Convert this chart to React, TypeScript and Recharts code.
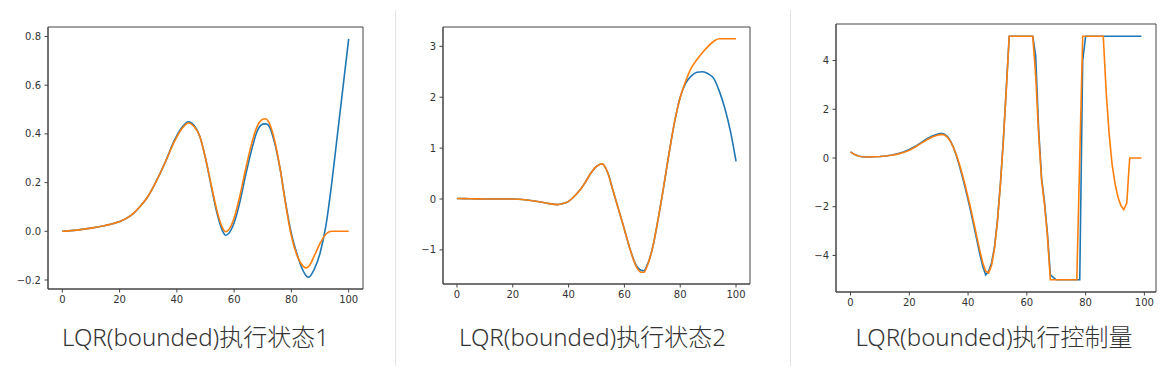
import React from 'react';
import { LineChart, Line, XAxis, YAxis, ReferenceArea } from 'recharts';

// 状态1
const state1X = [0, 5, 10, 15, 20, 24, 27, 30, 33, 36, 39, 42, 44, 46, 48, 50, 52, 54, 56, 57, 58, 60, 62, 64, 66, 68, 70, 71, 72, 74, 76, 78, 80, 82, 84, 85, 86, 88, 90, 92, 94, 96, 98, 100];
const state1Free = [0, 0.005, 0.013, 0.024, 0.04, 0.065, 0.1, 0.145, 0.21, 0.285, 0.37, 0.43, 0.45, 0.435, 0.39, 0.3, 0.185, 0.075, 0, -0.016, -0.01, 0.035, 0.12, 0.23, 0.33, 0.41, 0.44, 0.441, 0.435, 0.37, 0.26, 0.115, -0.01, -0.095, -0.16, -0.18, -0.188, -0.155, -0.09, 0.02, 0.19, 0.39, 0.59, 0.79];
const state1Bounded = [0, 0.005, 0.013, 0.024, 0.04, 0.065, 0.1, 0.145, 0.21, 0.285, 0.365, 0.425, 0.445, 0.43, 0.39, 0.3, 0.19, 0.085, 0.012, -0.002, 0.005, 0.055, 0.145, 0.255, 0.355, 0.43, 0.46, 0.462, 0.45, 0.38, 0.26, 0.11, -0.02, -0.1, -0.142, -0.15, -0.145, -0.1, -0.05, -0.012, 0, 0, 0, 0];

// 状态2
const state2X = [0, 5, 10, 15, 20, 25, 30, 33, 36, 38, 40, 42, 44, 46, 48, 50, 52, 54, 56, 58, 60, 62, 64, 66, 67, 68, 70, 72, 74, 76, 78, 80, 82, 84, 86, 88, 90, 92, 94, 96, 98, 100];
const state2Free = [0.01, 0.005, 0, 0, 0, -0.02, -0.06, -0.09, -0.11, -0.09, -0.045, 0.05, 0.17, 0.33, 0.51, 0.64, 0.69, 0.52, 0.15, -0.22, -0.6, -0.98, -1.28, -1.4, -1.41, -1.32, -0.98, -0.42, 0.22, 0.9, 1.52, 2.0, 2.28, 2.42, 2.49, 2.5, 2.46, 2.37, 2.12, 1.78, 1.33, 0.74];
const state2Bounded = [0.01, 0.005, 0, 0, 0, -0.02, -0.06, -0.09, -0.11, -0.09, -0.045, 0.05, 0.17, 0.33, 0.51, 0.64, 0.69, 0.52, 0.15, -0.22, -0.6, -0.98, -1.3, -1.44, -1.44, -1.34, -0.98, -0.42, 0.22, 0.9, 1.52, 2.0, 2.32, 2.58, 2.74, 2.88, 3.0, 3.1, 3.15, 3.15, 3.15, 3.15];

// 控制量
const controlX = [0, 1, 2, 3, 4, 6, 8, 10, 12, 14, 16, 18, 20, 22, 24, 26, 28, 30, 31, 32, 33, 34, 35, 36, 37, 38, 39, 40, 41, 42, 43, 44, 45, 46, 47, 48, 49, 50, 51, 52, 53, 54, 62, 63, 64, 65, 66, 67, 68, 69, 70, 77, 78, 79, 80, 86, 87, 88, 89, 90, 91, 92, 93, 94, 95, 99];
const controlFree = [0.25, 0.17, 0.11, 0.07, 0.05, 0.04, 0.05, 0.06, 0.08, 0.12, 0.17, 0.25, 0.35, 0.48, 0.63, 0.79, 0.91, 0.99, 1.01, 0.98, 0.88, 0.7, 0.44, 0.1, -0.3, -0.75, -1.22, -1.72, -2.25, -2.8, -3.38, -3.95, -4.45, -4.8, -4.65, -4.3, -3.65, -2.55, -1.05, 0.75, 2.85, 5, 5, 4.2, 1.2, -0.8, -1.8, -3.1, -4.8, -4.9, -5, -5, -5, 4.0, 5, 5, 5, 5, 5, 5, 5, 5, 5, 5, 5, 5];
const controlBounded = [0.25, 0.17, 0.11, 0.07, 0.05, 0.04, 0.05, 0.06, 0.08, 0.11, 0.16, 0.23, 0.32, 0.45, 0.6, 0.75, 0.87, 0.95, 0.97, 0.94, 0.85, 0.68, 0.44, 0.13, -0.24, -0.66, -1.12, -1.62, -2.13, -2.68, -3.25, -3.8, -4.3, -4.65, -4.72, -4.4, -3.7, -2.6, -1.1, 0.7, 2.8, 5, 5, 3.4, 1.0, -0.9, -1.9, -3.2, -5, -5, -5, -5, 0, 5, 5, 5, 2.7, 1.0, -0.25, -1.05, -1.6, -1.95, -2.12, -1.85, 0, 0];

const xTicks = [0, 20, 40, 60, 80, 100];
const state1YTicks = [-0.2, 0, 0.2, 0.4, 0.6, 0.8];
const state2YTicks = [-1, 0, 1, 2, 3];
const controlYTicks = [-4, -2, 0, 2, 4];

const captions = ['LQR(bounded)执行状态1', 'LQR(bounded)执行状态2', 'LQR(bounded)执行控制量'];

const BLUE = '#1f77b4';
const ORANGE = '#ff7f0e';
const AXIS = '#444';
const Y_W = 45;

// matplotlib-style autoscale: 5% padding on each side
const pad = (vals: number[]): [number, number] => {
  const lo = Math.min(...vals);
  const hi = Math.max(...vals);
  const m = (hi - lo) * 0.05;
  return [lo - m, hi + m];
};

const minus = (s: string) => s.replace('-', '\u2212');

interface PanelProps {
  x: number[];
  a: number[];
  b: number[];
  frame: { left: number; top: number; w: number; h: number };
  yTicks: number[];
  fmt: (v: number) => string;
  curve: 'monotone' | 'linear';
}

const Panel: React.FC<PanelProps> = ({ x, a, b, frame, yTicks, fmt, curve }) => {
  const rows = x.map((t, i) => ({ t, a: a[i], b: b[i] }));
  const xd = pad(x);
  const yd = pad([...a, ...b]);
  const tickStyle = { fontSize: 10, fill: '#333', fontFamily: 'DejaVu Sans' };
  return (
    <div style={{ position: 'absolute', left: frame.left - Y_W, top: 0 }}>
      <LineChart
        width={Y_W + frame.w + 10}
        height={frame.top + frame.h + 30}
        data={rows}
        margin={{ top: frame.top, right: 10, bottom: 5, left: 0 }}
      >
        <XAxis
          dataKey="t"
          type="number"
          domain={xd}
          ticks={xTicks}
          allowDataOverflow
          height={25}
          stroke={AXIS}
          tickSize={3.5}
          tickMargin={3.5}
          tick={tickStyle}
        />
        <YAxis
          type="number"
          domain={yd}
          ticks={yTicks}
          allowDataOverflow
          width={Y_W}
          stroke={AXIS}
          tickSize={3.5}
          tickMargin={3.5}
          tick={tickStyle}
          tickFormatter={(v: number) => minus(fmt(v))}
        />
        <ReferenceArea x1={xd[0]} x2={xd[1]} y1={yd[0]} y2={yd[1]} fill="none" stroke={AXIS} strokeWidth={1} />
        <Line type={curve} dataKey="a" stroke={BLUE} strokeWidth={1.6} dot={false} isAnimationActive={false} />
        <Line type={curve} dataKey="b" stroke={ORANGE} strokeWidth={1.6} dot={false} isAnimationActive={false} />
      </LineChart>
    </div>
  );
};

const captionCenters = [195.5, 592.5, 994];

export default function App() {
  return (
    <div style={{ position: 'absolute', left: 0, top: 0, width: 1174, height: 379, background: '#fff', overflow: 'hidden' }}>
      <Panel x={state1X} a={state1Free} b={state1Bounded} frame={{ left: 48, top: 27, w: 315, h: 262 }} yTicks={state1YTicks} fmt={(v) => v.toFixed(1)} curve="monotone" />
      <Panel x={state2X} a={state2Free} b={state2Bounded} frame={{ left: 443, top: 27, w: 307, h: 257 }} yTicks={state2YTicks} fmt={(v) => String(v)} curve="monotone" />
      <Panel x={controlX} a={controlFree} b={controlBounded} frame={{ left: 836, top: 24, w: 320, h: 268 }} yTicks={controlYTicks} fmt={(v) => String(v)} curve="linear" />
      {[395, 790].map((sx) => (
        <div key={sx} style={{ position: 'absolute', left: sx, top: 10, width: 1, height: 356, background: '#e3e3e3' }} />
      ))}
      {captions.map((c, i) => (
        <div
          key={c}
          style={{
            position: 'absolute',
            left: captionCenters[i] - 200,
            width: 400,
            top: 321,
            lineHeight: '32px',
            textAlign: 'center',
            fontFamily: '"Noto Sans", "Noto Sans CJK SC", sans-serif',
            fontSize: 24,
            fontWeight: 300,
            color: '#333',
            whiteSpace: 'nowrap',
          }}
        >
          {c}
        </div>
      ))}
    </div>
  );
}
